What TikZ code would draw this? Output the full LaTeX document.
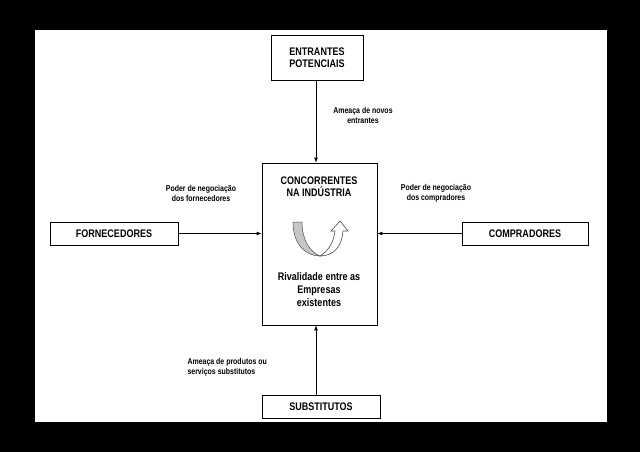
\documentclass[tikz,border=0pt]{standalone}
\usepackage{fontspec}
\setmainfont{Liberation Sans}[FakeStretch=0.82]
\begin{document}
\begin{tikzpicture}[x=1pt,y=-1pt,
 box/.style={draw,line width=0.8pt,fill=white,align=center,font=\bfseries\fontsize{11}{12}\selectfont,inner sep=0pt},
 lab/.style={align=center,font=\bfseries\fontsize{8.5}{10}\selectfont},
 arr/.style={-{Latex[length=5pt,width=4pt]},line width=0.8pt}]
\usetikzlibrary{arrows.meta}
\fill[black] (0,0) rectangle (640,452);
\fill[white] (35,30) rectangle (607,422);
\useasboundingbox (0,0) rectangle (640,452);
\node[box,minimum width=92pt,minimum height=45pt] (ent) at (317,57.5) {ENTRANTES\\POTENCIAIS};
\node[box,minimum width=115pt,minimum height=162pt] (con) at (319.5,244) {};
\node[box,minimum width=128pt,minimum height=23pt] (for) at (114,233.5) {FORNECEDORES};
\node[box,minimum width=126pt,minimum height=23pt] (com) at (525,233.5) {COMPRADORES};
\node[box,minimum width=118pt,minimum height=23pt] (sub) at (321,406.5) {SUBSTITUTOS};
\node[font=\bfseries\fontsize{11}{12}\selectfont,align=center] (t1) at (319,187) {CONCORRENTES\\NA INDÚSTRIA};
\node[font=\bfseries\fontsize{11}{13}\selectfont,align=center] (t2) at (319,290) {Rivalidade entre as\\Empresas\\existentes};
\draw[arr] (ent.south -| 316,0) -- (con.north -| 316,0);
\draw[arr] (for.east) -- (for.east -| con.west);
\draw[arr] (com.west) -- (com.west -| con.east);
\draw[arr] (sub.north -| 316,0) -- (con.south -| 316,0);
\node[lab] (l1) at (363,115) {Ameaça de novos\\entrantes};
\node[lab] (l2) at (201,193) {Poder de negociação\\dos fornecedores};
\node[lab] (l3) at (436,193) {Poder de negociação\\dos compradores};
\node[lab,align=left,anchor=west] (l4) at (184,367) {Ameaça de produtos ou\\serviços substitutos};
% curved arrow icon
\fill[gray!45,draw=black!70,line width=0.5pt] (293,222) -- (302,222) .. controls (302,240) and (310,252) .. (320,256) .. controls (306,256) and (293,245) .. (293,222) -- cycle;
\draw[fill=white,draw=black!70,line width=0.6pt] (320,256) .. controls (330,250) and (334,240) .. (335,231) -- (331,231) -- (340,221) -- (348,231) -- (343,231) .. controls (342,246) and (334,256) .. (320,256) -- cycle;
\end{tikzpicture}
\end{document}
